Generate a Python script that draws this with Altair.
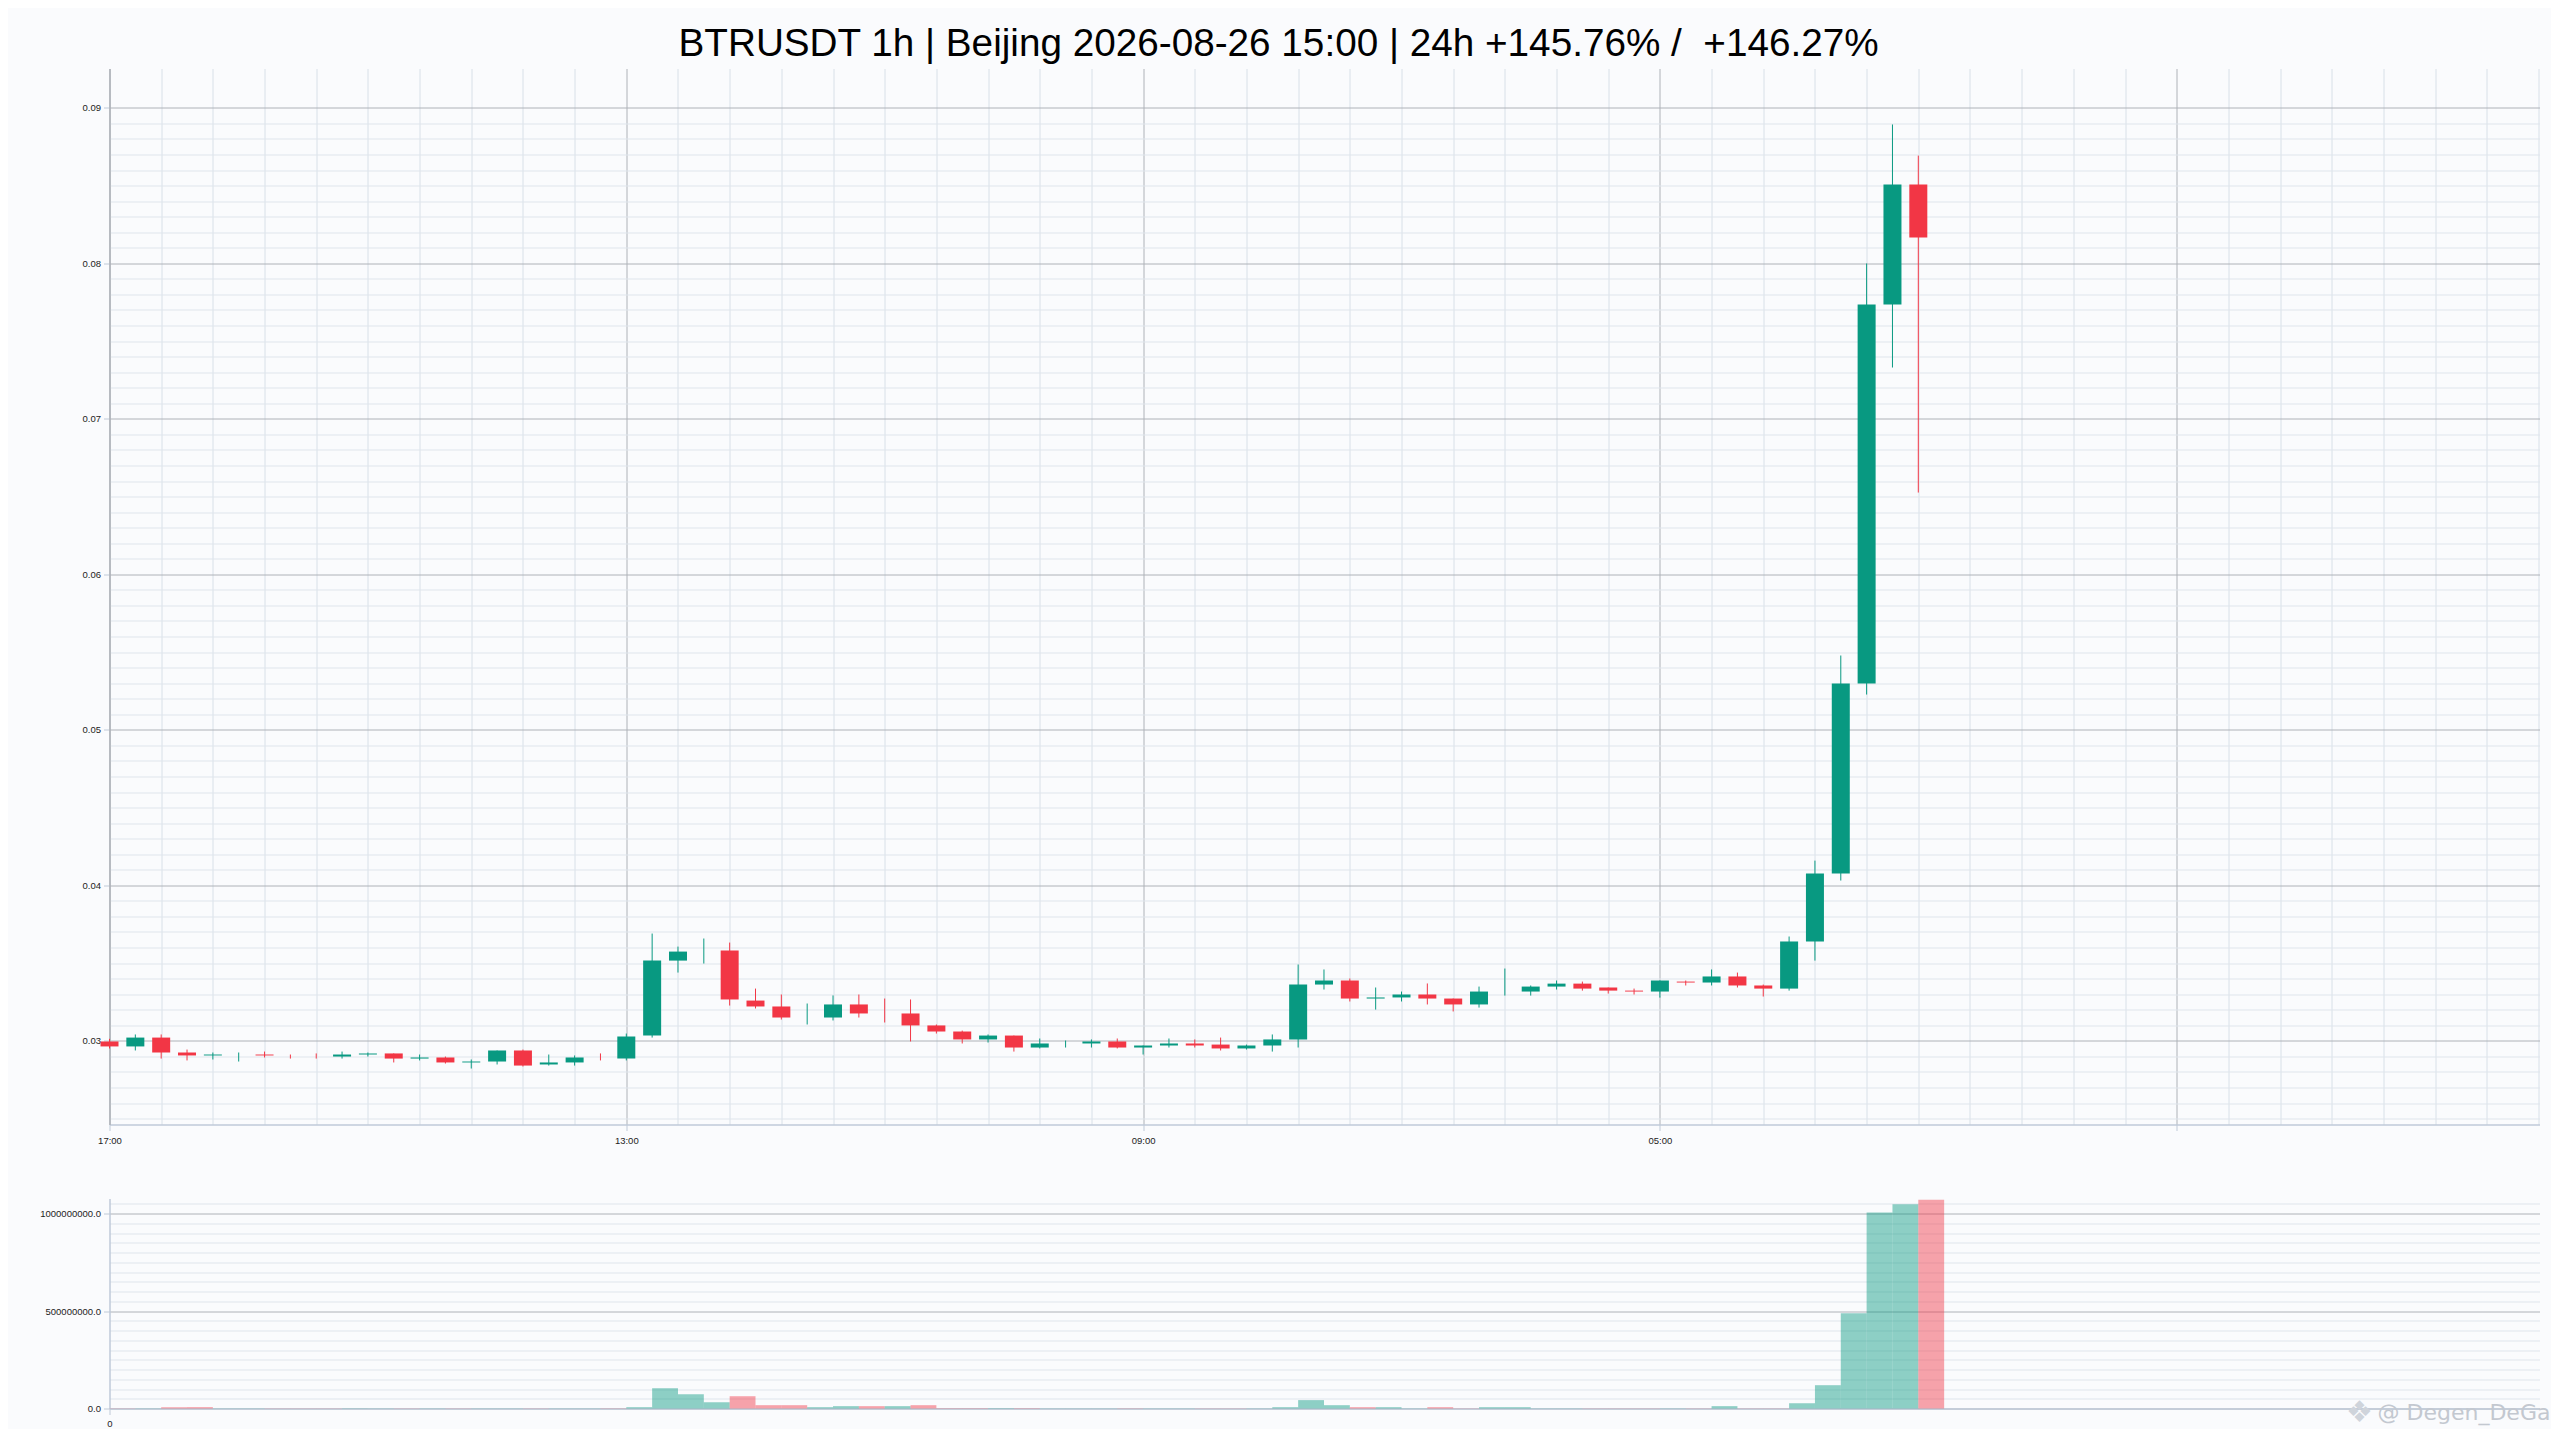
import altair as alt
import pandas as pd

TITLE = "BTRUSDT 1h | Beijing 2026-08-26 15:00 | 24h +145.76% / \u00a0+146.27%"
GREEN = "#089981"
RED = "#F23645"
BG = "#fafbfd"
MAJOR = "#aeb2b8"
MINOR_V = "#d8e0e8"
MINOR_H = "#dfe5ec"
AXIS = "#bfcad8"
FONT = "Liberation Sans"

opens = [.02996,.02964,.03021,.02925,.02906,.02905,.02912,.02906,.02906,.02899,.02912,
         .02919,.02886,.02893,.02861,.02867,.02938,.02848,.02861,.02900,.02886,.03034,
         .03516,.03560,.03581,.03259,.03221,.03170,.03150,.03234,.03180,.03176,.03099,
         .03060,.03009,.03034,.02957,.02980,.02983,.02996,.02957,.02970,.02983,.02976,
         .02951,.02970,.03009,.03362,.03388,.03272,.03279,.03298,.03272,.03234,.03380,
         .03317,.03349,.03368,.03343,.03323,.03317,.03381,.03375,.03414,.03356,.03336,
         .03639,.04076,.05298,.07735,.08507]
highs = [.03013,.03041,.03041,.02944,.02925,.02925,.02931,.02912,.02919,.02931,.02925,
         .02919,.02912,.02899,.02880,.02938,.02944,.02912,.02906,.02919,.03047,.03690,
         .03606,.03658,.03632,.03336,.03298,.03240,.03292,.03298,.03272,.03266,.03105,
         .03066,.03041,.03034,.03015,.03002,.03009,.03015,.02970,.03015,.03009,.03021,
         .02976,.03041,.03491,.03459,.03401,.03343,.03317,.03369,.03272,.03349,.03465,
         .03356,.03388,.03381,.03343,.03336,.03388,.03388,.03459,.03439,.03362,.03671,
         .04159,.05478,.07999,.08893,.08693]
lows = [.02951,.02938,.02886,.02874,.02880,.02867,.02893,.02886,.02886,.02886,.02899,
        .02861,.02874,.02854,.02822,.02848,.02835,.02841,.02841,.02874,.02874,.03021,
        .03439,.03497,.03227,.03208,.03137,.03105,.03131,.03150,.03118,.02996,.03047,
        .02983,.02989,.02931,.02951,.02957,.02957,.02951,.02912,.02957,.02957,.02938,
        .02944,.02931,.02957,.03330,.03253,.03201,.03253,.03234,.03189,.03214,.03291,
        .03291,.03330,.03323,.03304,.03298,.03278,.03356,.03356,.03343,.03285,.03323,
        .03516,.04031,.05227,.07330,.06526]
closes = [.02964,.03021,.02925,.02906,.02912,.02905,.02906,.02906,.02906,.02912,.02919,
          .02886,.02893,.02861,.02867,.02938,.02841,.02861,.02893,.02900,.03028,.03516,
          .03574,.03560,.03266,.03221,.03150,.03170,.03234,.03176,.03180,.03099,.03060,
          .03009,.03034,.02957,.02983,.02980,.02996,.02957,.02970,.02983,.02970,.02951,
          .02970,.03009,.03362,.03388,.03272,.03279,.03298,.03272,.03234,.03317,.03380,
          .03349,.03368,.03336,.03323,.03317,.03388,.03375,.03414,.03356,.03336,.03639,
          .04076,.05298,.07735,.08507,.08166]
# d = falling candle, u = rising candle (wick-only candles cannot be told from open/close)
candle_dir = ["d","u","d","d","u","u","d","d","d","u","u","d","u","d","u","u","d","u","u","d",
              "u","u","u","u","d","d","d","u","u","d","d","d","d","d","u","d","u","u","u","d",
              "u","u","d","d","u","u","u","u","d","u","u","d","d","u","u","u","u","d","d","d",
              "u","d","u","d","d","u","u","u","u","u","d"]

volumes = [1e6,1e6,7e6,7e6,1e6,1e6,1e6,1e6,1e6,1e6,1e6,
           1e6,1e6,1e6,1e6,1e6,1e6,1e6,1e6,1e6,6.8e6,1.04e8,
           7.3e7,3.2e7,6.3e7,1.7e7,1.7e7,6.8e6,1.2e7,1.2e7,1.2e7,1.7e7,2e6,
           2e6,2e6,2e6,1e6,1e6,1e6,1e6,1e6,1e6,1e6,1e6,
           1e6,6.8e6,4.3e7,1.7e7,6.8e6,6.8e6,1e6,6.8e6,1e6,6.8e6,6.8e6,
           1e6,1e6,1e6,1e6,1e6,1e6,1e6,1.2e7,1e6,1e6,2.7e7,
           1.195e8,4.887e8,1.005e9,1.0477e9,1.07e9]
volume_dir = list(candle_dir)
volume_dir[30] = "u"

x_major_labels = ["17:00", "13:00", "09:00", "05:00", ""]
x_ticks = list(range(0, 95, 2))
price_ticks = [round(0.025 + i * 0.001, 3) for i in range(66)]
volume_ticks = [i * 50000000 for i in range(22)]

W = 2430
x_domain = [0, 94.04]
dir_scale = alt.Scale(domain=["u", "d"], range=[GREEN, RED])

candles = pd.DataFrame({
    "i": range(len(opens)), "open": opens, "high": highs, "low": lows, "close": closes,
    "dir": candle_dir,
})
vols = pd.DataFrame({
    "i": range(len(volumes)), "vol": volumes, "dir": volume_dir,
})
vols["i2"] = vols["i"] + 1
vols["base"] = 0

label_expr = " : ".join(
    f"datum.value === {k * 20} ? '{t}'" for k, t in enumerate(x_major_labels)
) + " : ''"

common_axis = dict(
    labelFont=FONT, labelFontSize=9.5, labelColor="#222222",
    labelOverlap=False, labelFlush=False, labelBound=False,
    domainWidth=1.5, title=None, tickSize=6,
)

x_main = alt.Axis(
    values=x_ticks, labelExpr=label_expr, grid=True, labelPadding=4.5, domainColor=AXIS,
    gridColor={"condition": {"test": "datum.value % 20 === 0", "value": MAJOR}, "value": MINOR_V},
    gridWidth=1,
    tickColor={"condition": {"test": "datum.value % 20 === 0", "value": AXIS}, "value": "transparent"},
    **common_axis,
)
y_main = alt.Axis(
    values=price_ticks, grid=True, labelPadding=3, domainColor=MAJOR,
    labelExpr="round(datum.value * 1000) % 10 === 0 ? format(datum.value, '.2f') : ''",
    gridColor={"condition": {"test": "round(datum.value * 1000) % 10 === 0", "value": MAJOR}, "value": MINOR_H},
    gridWidth=1,
    tickColor={"condition": {"test": "round(datum.value * 1000) % 10 === 0", "value": AXIS}, "value": "transparent"},
    **common_axis,
)
x_scale = alt.Scale(domain=x_domain, nice=False, zero=False, padding=0)
y_scale = alt.Scale(domain=[0.02462, 0.09253], nice=False, zero=False, padding=0)
x_price = alt.X("i:Q", scale=x_scale, axis=x_main)

wicks = alt.Chart(candles).mark_rule(strokeWidth=1).encode(
    x=x_price,
    y=alt.Y("low:Q", scale=y_scale, axis=y_main),
    y2="high:Q",
    color=alt.Color("dir:N", scale=dir_scale, legend=None),
)
bodies = alt.Chart(candles).mark_bar(size=18).encode(
    x=x_price,
    y=alt.Y("open:Q", scale=y_scale, axis=y_main),
    y2="close:Q",
    color=alt.Color("dir:N", scale=dir_scale, legend=None),
)
price_panel = alt.layer(wicks, bodies).properties(width=W, height=1056)

x_vol = alt.Axis(values=[0], grid=False, labelPadding=4, tickColor=AXIS, domainColor=AXIS,
                 labelExpr="'0'", **common_axis)
y_vol = alt.Axis(
    values=volume_ticks, grid=True, labelPadding=3, domainColor=AXIS,
    labelExpr="datum.value % 500000000 === 0 ? format(datum.value, '.1f') : ''",
    gridColor={"condition": {"test": "datum.value % 500000000 === 0", "value": MAJOR}, "value": MINOR_H},
    gridWidth=1,
    tickColor={"condition": {"test": "datum.value % 500000000 === 0", "value": AXIS}, "value": "transparent"},
    **common_axis,
)
vol_bars = alt.Chart(vols).mark_rect(opacity=0.45).encode(
    x=alt.X("i:Q", scale=x_scale, axis=x_vol),
    x2="i2:Q",
    y=alt.Y("vol:Q", scale=alt.Scale(domain=[0, 1.077e9], nice=False, zero=False), axis=y_vol),
    y2="base:Q",
    color=alt.Color("dir:N", scale=dir_scale, legend=None),
)
mark_df = pd.DataFrame({"t": ["@ Degen_DeGa"], "logo": ["\u2756"]})
watermark = alt.Chart(mark_df).mark_text(
    font="DejaVu Sans", fontSize=22, color="#c3c8d0", align="left", baseline="middle", clip=False,
).encode(text="t:N", x=alt.value(2268), y=alt.value(214))
logo = alt.Chart(mark_df).mark_text(
    font="DejaVu Sans", fontSize=30, color="#cfd4db", align="center", baseline="middle", clip=False,
).encode(text="logo:N", x=alt.value(2250), y=alt.value(214))
volume_panel = alt.layer(vol_bars, logo, watermark).properties(width=W, height=210)

chart = alt.vconcat(price_panel, volume_panel, spacing=54).resolve_scale(
    color="shared"
).properties(
    title=alt.TitleParams(
        TITLE, font=FONT, fontSize=38.7, fontWeight="normal", color="#000000",
        anchor="middle", dx=-16.5, offset=5,
    ),
    padding={"left": 31.5, "top": 16.5, "right": 0, "bottom": 0},
    background=BG,
).configure_view(stroke=None)

chart.save("out.html", embed_options={"renderer": "svg", "actions": False})
